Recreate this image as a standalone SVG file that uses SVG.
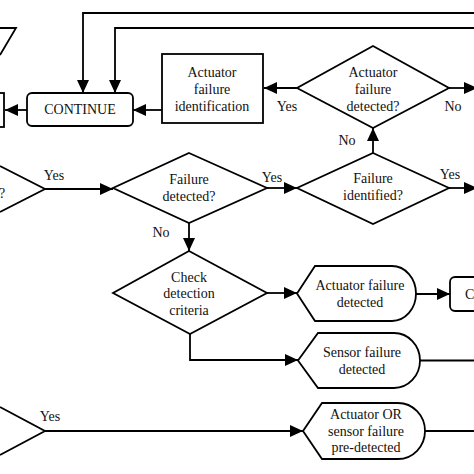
<svg xmlns="http://www.w3.org/2000/svg" width="474" height="474" viewBox="0 0 474 474">
<defs>
<marker id="ah" markerUnits="userSpaceOnUse" markerWidth="14" markerHeight="12" refX="13" refY="6" orient="auto">
<path d="M0,0 L13,6 L0,12 Z" fill="#000"/>
</marker>
<style>
.s{fill:#fff;stroke:#000;stroke-width:1.8}
.l{fill:none;stroke:#000;stroke-width:1.8}
.a{fill:none;stroke:#000;stroke-width:1.8;marker-end:url(#ah)}
.t{font-family:'Liberation Serif','DejaVu Serif',serif;font-size:14px;fill:#111;text-anchor:middle}
</style>
</defs>
<rect width="474" height="474" fill="#fff"/>
<g id="connectors">
<polyline class="a" points="474,13 83,13 83,93"/>
<polyline class="a" points="474,28 115,28 115,93"/>
<line class="a" x1="27" y1="110" x2="5" y2="110"/>
<line class="a" x1="162" y1="110" x2="133" y2="110"/>
<line class="a" x1="297" y1="88" x2="264" y2="88"/>
<line class="a" x1="449" y1="88" x2="477" y2="88"/>
<line class="a" x1="373" y1="153" x2="373" y2="128"/>
<line class="a" x1="449" y1="188" x2="477" y2="188"/>
<line class="a" x1="45" y1="189" x2="113" y2="189"/>
<line class="a" x1="267" y1="188" x2="297" y2="188"/>
<line class="a" x1="189" y1="223" x2="189" y2="251"/>
<line class="a" x1="267" y1="293" x2="297" y2="293"/>
<polyline class="a" points="190,334 190,360 298,360"/>
<line class="a" x1="416" y1="294" x2="450" y2="294"/>
<line class="l" x1="420" y1="360.5" x2="474" y2="360.5"/>
<line class="a" x1="45" y1="431" x2="303" y2="431"/>
<line class="l" x1="425" y1="431" x2="474" y2="431"/>
<g class="t" font-family="Liberation Serif, DejaVu Serif, serif">
<text x="287" y="111">Yes</text>
<text x="453" y="111">No</text>
<text x="347" y="145">No</text>
<text x="450" y="179">Yes</text>
<text x="272" y="182">Yes</text>
<text x="54" y="180">Yes</text>
<text x="161" y="237">No</text>
<text x="50" y="421">Yes</text>
</g>
</g>
<g id="start-partial">
<polyline class="l" points="0,28 16,28 0,55"/>
</g>
<g id="left-box-partial">
<rect class="s" x="-20" y="93" width="24" height="34"/>
</g>
<g id="continue" class="t">
<rect class="s" x="27" y="93" width="106" height="33" rx="5"/>
<text x="80" y="114">CONTINUE</text>
</g>
<g id="actuator-identification" class="t">
<rect class="s" x="162" y="54" width="101" height="69"/>
<text x="212" y="77">Actuator</text>
<text x="212" y="94">failure</text>
<text x="212" y="111">identification</text>
</g>
<g id="actuator-detected-q" class="t">
<polygon class="s" points="373,46 449,88 373,128 297,88"/>
<text x="373" y="77">Actuator</text>
<text x="373" y="94">failure</text>
<text x="373" y="111">detected?</text>
</g>
<g id="left-diamond-partial" class="t">
<polyline class="l" points="0,166 45,189 0,212"/>
<text x="-1" y="198" text-anchor="start">?</text>
</g>
<g id="failure-detected" class="t">
<polygon class="s" points="189,153 267,188 189,223 113,188"/>
<text x="189" y="184">Failure</text>
<text x="189" y="201">detected?</text>
</g>
<g id="failure-identified" class="t">
<polygon class="s" points="373,153 449,188 373,224 297,188"/>
<text x="373" y="183">Failure</text>
<text x="373" y="200">identified?</text>
</g>
<g id="check-criteria" class="t">
<polygon class="s" points="189,251 267,293 190,334 113,293"/>
<text x="189" y="282">Check</text>
<text x="189" y="298">detection</text>
<text x="189" y="315">criteria</text>
</g>
<g id="actuator-failure-detected" class="t">
<path class="s" d="M297,293.5 L315,266 H392 A24,27.5 0 0 1 416,293.5 A24,27.5 0 0 1 392,321 H315 Z"/>
<text x="360" y="290">Actuator failure</text>
<text x="360" y="307">detected</text>
</g>
<g id="continue-right" class="t">
<rect class="s" x="450" y="277" width="40" height="34" rx="5"/>
<text x="465" y="299" text-anchor="start">C</text>
</g>
<g id="sensor-failure-detected" class="t">
<path class="s" d="M298,360.5 L318,333 H394 A26,27.5 0 0 1 420,360.5 A26,27.5 0 0 1 394,388 H318 Z"/>
<text x="362" y="357">Sensor failure</text>
<text x="362" y="374">detected</text>
</g>
<g id="left-diamond-bottom-partial">
<polyline class="l" points="0,407 45,431 0,455"/>
</g>
<g id="pre-detected" class="t">
<path class="s" d="M303,431 L322,403 H398 A27,28 0 0 1 425,431 A27,28 0 0 1 398,459 H322 Z"/>
<text x="366" y="419">Actuator OR</text>
<text x="366" y="436">sensor failure</text>
<text x="366" y="452">pre-detected</text>
</g>
</svg>
